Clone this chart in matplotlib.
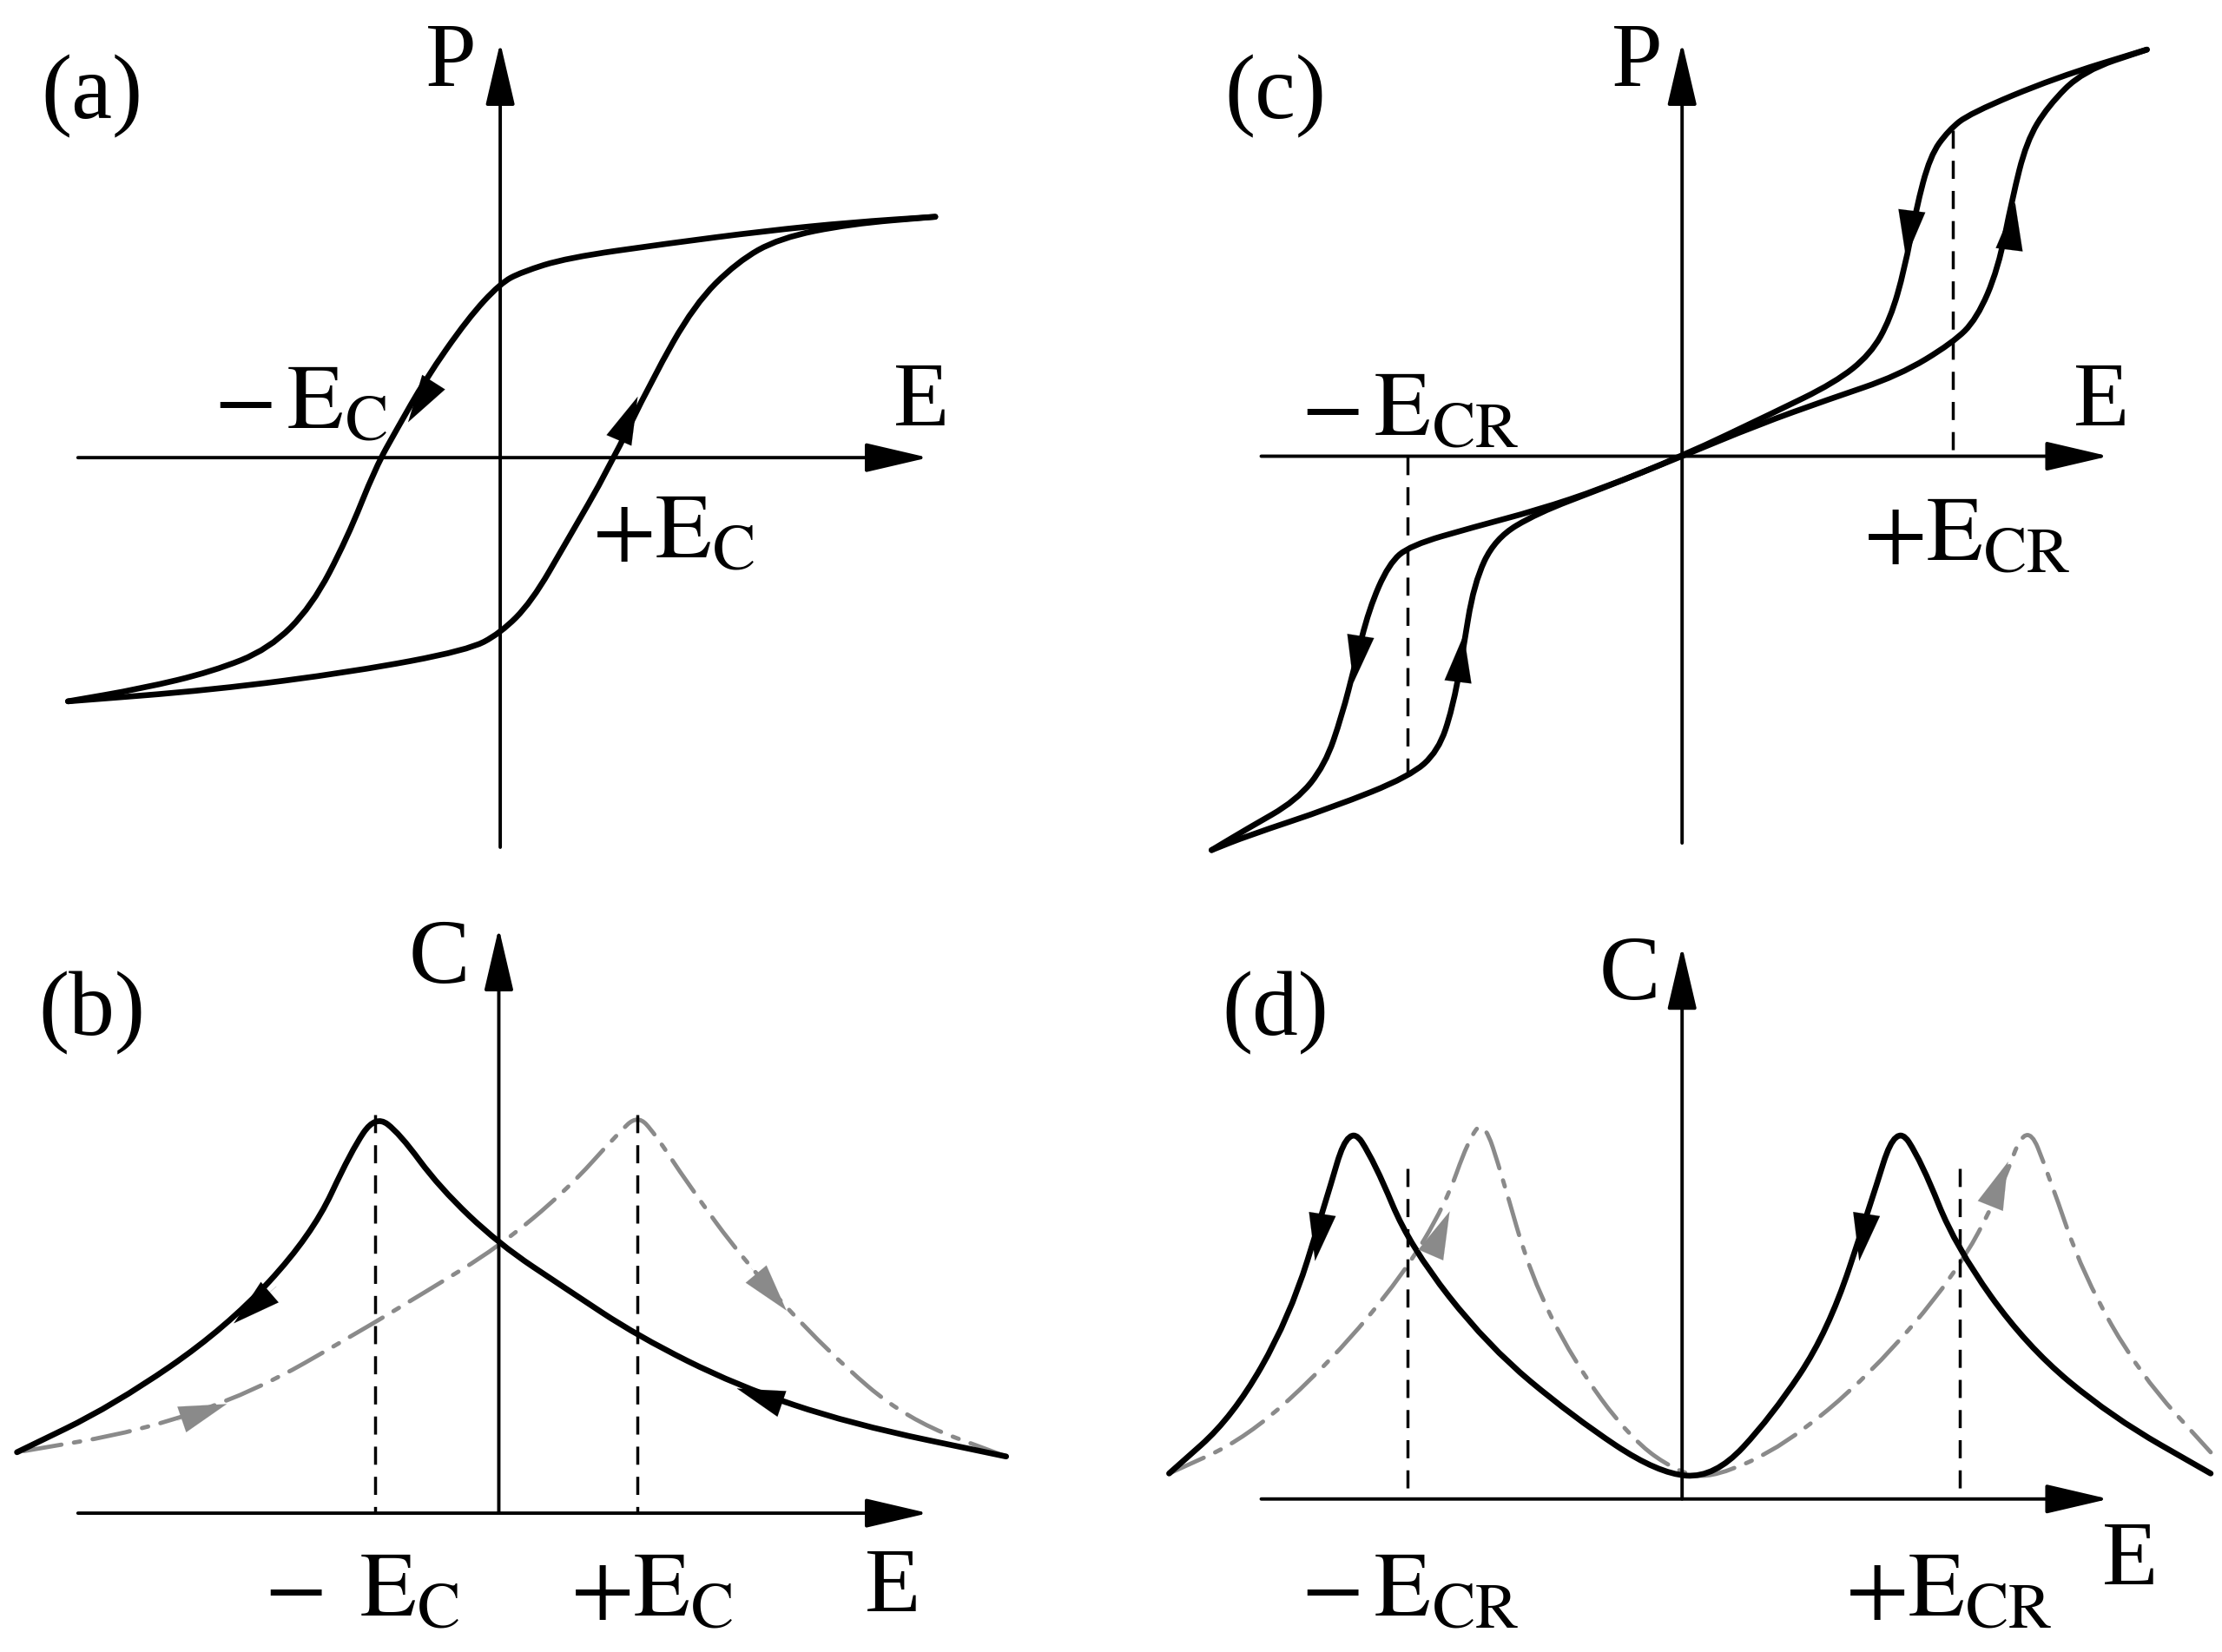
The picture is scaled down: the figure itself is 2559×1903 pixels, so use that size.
import matplotlib
matplotlib.use("Agg")
import matplotlib.pyplot as plt
from matplotlib.path import Path
from matplotlib.patches import PathPatch

plt.rcParams['mathtext.fontset'] = 'stix'
plt.rcParams['font.family'] = ['Liberation Serif', 'DejaVu Serif']

# Panel (a): P-E loop (image pixel coordinates)
a_upper_x = [660, 600, 540, 470, 400, 368, 353, 330, 300, 280, 265, 245, 220, 190, 150, 100, 48]
a_upper_y = [153, 157, 163, 172, 182, 192, 200, 225, 268, 303, 330, 380, 428, 458, 474, 486, 495]
a_lower_x = [48, 150, 250, 330, 353, 375, 400, 430, 460, 490, 520, 550, 600, 660]
a_lower_y = [495, 487, 474, 459, 447, 425, 382, 330, 268, 215, 185, 168, 158, 153]

# Panel (c): double loop
c_desc_x = [1515, 1450, 1390, 1375, 1362, 1352, 1344, 1334, 1320, 1295, 1250, 1187, 1130, 1085, 1040, 995, 980, 966, 956, 947, 935, 915, 880, 855]
c_desc_y = [35, 55, 80, 92, 110, 148, 190, 225, 250, 270, 292, 322, 345, 360, 372, 385, 398, 430, 470, 505, 540, 565, 585, 600]
c_asc_x = [855, 880, 940, 995, 1015, 1025, 1032, 1040, 1055, 1085, 1130, 1187, 1240, 1290, 1340, 1378, 1395, 1410, 1420, 1430, 1445, 1470, 1515]
c_asc_y = [600, 590, 570, 548, 530, 500, 462, 412, 380, 362, 345, 322, 300, 282, 265, 242, 225, 190, 140, 100, 75, 50, 35]

# Panel (b): C-E butterfly
b_solid_x = [12, 80, 160, 220, 248, 265, 282, 310, 352, 400, 450, 520, 600, 710]
b_solid_y = [1025, 992, 937, 872, 812, 787, 800, 838, 878, 910, 943, 978, 1005, 1028]
b_gray_x = [710, 640, 585, 525, 485, 462, 450, 436, 400, 352, 300, 250, 180, 100, 12]
b_gray_y = [1028, 1002, 955, 890, 835, 800, 787, 800, 840, 880, 912, 942, 982, 1010, 1025]

# Panel (d): double butterfly
d_solid_x = [825, 870, 910, 935, 952, 970, 995, 1050, 1110, 1170, 1210, 1250, 1290, 1320, 1338, 1356, 1380, 1430, 1490, 1560]
d_solid_y = [1040, 1000, 930, 850, 792, 820, 880, 950, 1000, 1040, 1043, 1000, 940, 850, 792, 820, 880, 950, 1000, 1040]
d_gray_x = [825, 880, 940, 990, 1020, 1036, 1047, 1060, 1080, 1110, 1150, 1185, 1210, 1260, 1320, 1380, 1412, 1430, 1446, 1470, 1510, 1560]
d_gray_y = [1040, 1015, 960, 900, 850, 805, 790, 830, 900, 960, 1015, 1040, 1043, 1020, 970, 900, 840, 790, 830, 900, 970, 1025]

fig = plt.figure(figsize=(25.59, 19.03), dpi=100)
ax = fig.add_axes([0, 0, 1, 1])
ax.set_xlim(0, 1568)
ax.set_ylim(1166, 0)
ax.axis('off')

LW = 4.8
GRAY = '#8a8a8a'

def smooth(xs, ys, color='black', lw=LW, ls='-'):
    pts = list(zip(xs, ys))
    verts = [pts[0]]
    codes = [Path.MOVETO]
    mids = [((pts[i][0] + pts[i + 1][0]) / 2, (pts[i][1] + pts[i + 1][1]) / 2) for i in range(len(pts) - 1)]
    verts.append(mids[0]); codes.append(Path.LINETO)
    for i in range(1, len(pts) - 1):
        verts += [pts[i], mids[i]]
        codes += [Path.CURVE3, Path.CURVE3]
    verts.append(pts[-1]); codes.append(Path.LINETO)
    ax.add_patch(PathPatch(Path(verts, codes), fill=False, edgecolor=color, lw=lw, ls=ls,
                           capstyle='round', joinstyle='round'))

def axis_arrow(x0, y0, x1, y1):
    ax.annotate('', xy=(x1, y1), xytext=(x0, y0),
                arrowprops=dict(arrowstyle='-|>,head_length=1.5,head_width=0.35', lw=2.8, color='black',
                                shrinkA=0, shrinkB=0, mutation_scale=30))

def curve_arrow(x, y, dx, dy, color='black'):
    ax.annotate('', xy=(x + dx, y + dy), xytext=(x, y),
                arrowprops=dict(arrowstyle='-|>,head_length=1.4,head_width=0.4', lw=0.1, color=color,
                                shrinkA=0, shrinkB=0, mutation_scale=28))

# axes
axis_arrow(55, 323, 655, 323); axis_arrow(353, 598, 353, 30)
axis_arrow(890, 322, 1488, 322); axis_arrow(1187, 595, 1187, 30)
axis_arrow(55, 1068, 655, 1068); axis_arrow(352, 1068, 352, 655)
axis_arrow(890, 1058, 1488, 1058); axis_arrow(1187, 1058, 1187, 668)

# (a)
smooth(a_upper_x, a_upper_y)
smooth(a_lower_x, a_lower_y)
curve_arrow(302, 276, -14, 22)
curve_arrow(438, 308, 12, -28)

# (c)
smooth(c_desc_x, c_desc_y)
smooth(c_asc_x, c_asc_y)
ax.plot([1378, 1378], [92, 322], color='black', lw=2.5, ls=(0, (6, 4)))
ax.plot([993, 993], [322, 548], color='black', lw=2.5, ls=(0, (6, 4)))
curve_arrow(1349, 150, -4, 32)
curve_arrow(1418, 175, 4, -32)
curve_arrow(960, 450, -5, 32)
curve_arrow(1029, 480, 4, -32)

# (b)
smooth(b_gray_x, b_gray_y, GRAY, 3.5, (0, (9, 3, 1.5, 3)))
smooth(b_solid_x, b_solid_y)
ax.plot([265, 265], [787, 1068], color='black', lw=2.5, ls=(0, (6, 4)))
ax.plot([450, 450], [787, 1068], color='black', lw=2.5, ls=(0, (6, 4)))
curve_arrow(195, 908, -30, 26)
curve_arrow(555, 992, -35, -12)
curve_arrow(125, 1003, 35, -12, GRAY)
curve_arrow(530, 895, 25, 30, GRAY)

# (d)
smooth(d_gray_x, d_gray_y, GRAY, 3.5, (0, (9, 3, 1.5, 3)))
smooth(d_solid_x, d_solid_y)
ax.plot([993, 993], [825, 1058], color='black', lw=2.5, ls=(0, (6, 4)))
ax.plot([1383, 1383], [825, 1058], color='black', lw=2.5, ls=(0, (6, 4)))
curve_arrow(933, 858, -5, 32)
curve_arrow(1317, 858, -5, 32)
curve_arrow(1010, 885, 13, -30, GRAY)
curve_arrow(1405, 850, 12, -30, GRAY)

FS = 76
def txt(x, y, s, ha='center'):
    ax.text(x, y, s, fontsize=FS, ha=ha, va='center')

txt(65, 68, '(a)'); txt(318, 45, 'P'); txt(650, 285, 'E')
txt(212, 287, r'$-\,\mathrm{E}_\mathrm{C}$'); txt(475, 378, r'$+\mathrm{E}_\mathrm{C}$')
txt(900, 68, '(c)'); txt(1155, 45, 'P'); txt(1483, 285, 'E')
txt(995, 292, r'$-\,\mathrm{E}_\mathrm{CR}$'); txt(1388, 380, r'$+\mathrm{E}_\mathrm{CR}$')
txt(65, 715, '(b)'); txt(310, 678, 'C'); txt(630, 1122, 'E')
txt(255, 1125, r'$-\ \,\mathrm{E}_\mathrm{C}$'); txt(460, 1125, r'$+\mathrm{E}_\mathrm{C}$')
txt(900, 715, '(d)'); txt(1150, 690, 'C'); txt(1503, 1103, 'E')
txt(995, 1125, r'$-\,\mathrm{E}_\mathrm{CR}$'); txt(1375, 1125, r'$+\mathrm{E}_\mathrm{CR}$')

fig.savefig('out.png', dpi=100, facecolor='white')
